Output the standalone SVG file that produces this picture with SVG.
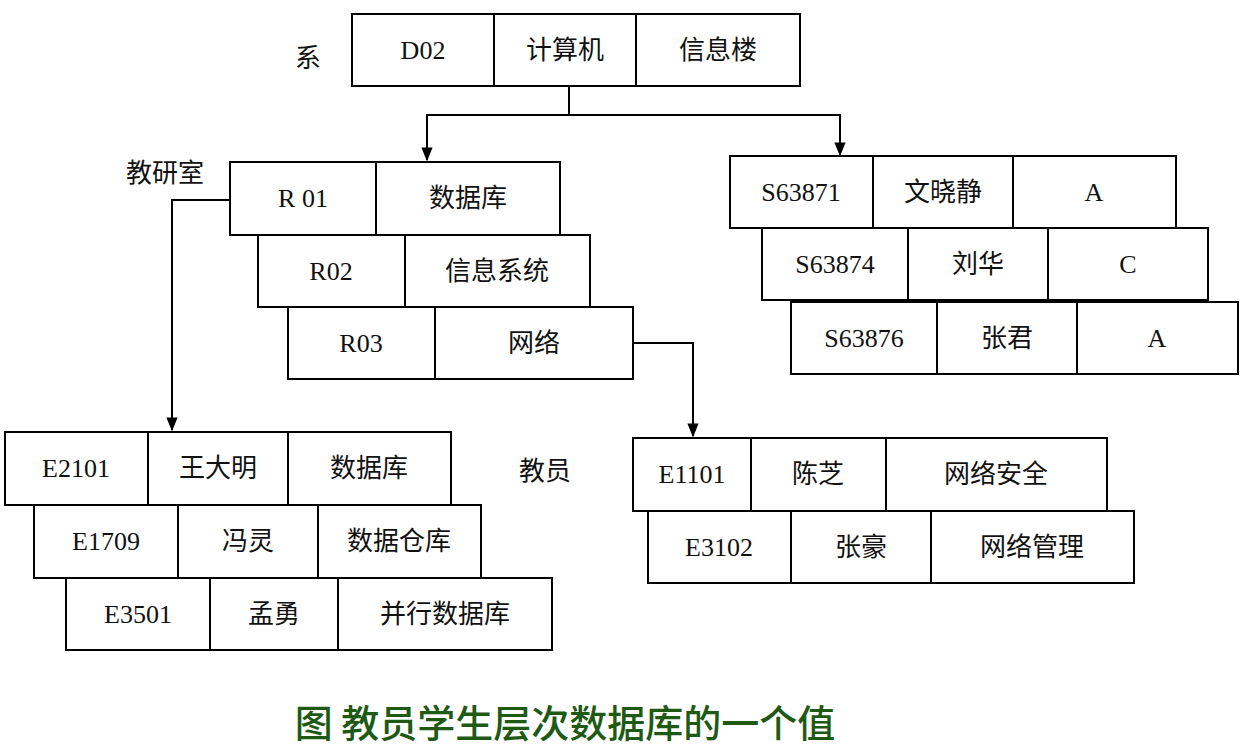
<svg xmlns="http://www.w3.org/2000/svg" width="1255" height="751" viewBox="0 0 1255 751">
<style>
.b{fill:#fff;stroke:#000;stroke-width:2}
.d{stroke:#000;stroke-width:2}
text{font-family:"Liberation Serif","Noto Sans CJK SC",serif;font-size:26px;fill:#111;text-anchor:middle;dominant-baseline:central}
.l{font-family:"Noto Sans CJK SC",sans-serif}
.c{font-family:"Noto Sans CJK SC",sans-serif;font-size:38px;fill:#1e5a14;font-weight:500}
.w{fill:none;stroke:#000;stroke-width:2}
</style>
<defs><marker id="a" viewBox="0 0 10 10" refX="9" refY="5" markerWidth="7" markerHeight="9" orient="auto"><path d="M0,1L10,5L0,9z" fill="#000"/></marker></defs>
<rect width="1255" height="751" fill="#fff"/>
<g id="connectors">
<path class="w" d="M569,86V115H427V160" marker-end="url(#a)"/>
<path class="w" d="M569,115H840V155" marker-end="url(#a)"/>
<path class="w" d="M230,200H172V430" marker-end="url(#a)"/>
<path class="w" d="M633,343H693V436" marker-end="url(#a)"/>
</g>
<g id="labels">
<text x="308" y="55" class="l">系</text>
<text x="165" y="170" class="l">教研室</text>
<text x="545" y="468" class="l">教员</text>
</g>
<g id="dept"><rect class="b" x="352" y="14" width="448" height="72"/><path class="d" d="M494,14V86M636,14V86"/>
<text x="423" y="50">D02</text><text x="565" y="50">计算机</text><text x="718" y="50">信息楼</text></g>
<g id="r01"><rect class="b" x="230" y="162" width="330" height="73"/><path class="d" d="M376,162V235"/><text x="303" y="198">R 01</text><text x="468" y="198">数据库</text></g>
<g id="r02"><rect class="b" x="258" y="235" width="332" height="72"/><path class="d" d="M405,235V307"/><text x="331" y="271">R02</text><text x="497" y="271">信息系统</text></g>
<g id="r03"><rect class="b" x="288" y="307" width="345" height="72"/><path class="d" d="M435,307V379"/><text x="361" y="343">R03</text><text x="534" y="343">网络</text></g>
<g id="s1"><rect class="b" x="730" y="156" width="446" height="72"/><path class="d" d="M873,156V228M1013,156V228"/><text x="801" y="192">S63871</text><text x="943" y="192">文晓静</text><text x="1094" y="192">A</text></g>
<g id="s2"><rect class="b" x="762" y="228" width="446" height="72"/><path class="d" d="M908,228V300M1048,228V300"/><text x="835" y="264">S63874</text><text x="978" y="264">刘华</text><text x="1128" y="264">C</text></g>
<g id="s3"><rect class="b" x="791" y="302" width="447" height="72"/><path class="d" d="M937,302V374M1077,302V374"/><text x="864" y="338">S63876</text><text x="1007" y="338">张君</text><text x="1157" y="338">A</text></g>
<g id="t1"><rect class="b" x="5" y="432" width="446" height="73"/><path class="d" d="M148,432V505M288,432V505"/><text x="76" y="468">E2101</text><text x="218" y="468">王大明</text><text x="369" y="468">数据库</text></g>
<g id="t2"><rect class="b" x="34" y="505" width="447" height="73"/><path class="d" d="M178,505V578M318,505V578"/><text x="106" y="541">E1709</text><text x="248" y="541">冯灵</text><text x="399" y="541">数据仓库</text></g>
<g id="t3"><rect class="b" x="66" y="578" width="486" height="72"/><path class="d" d="M210,578V650M338,578V650"/><text x="138" y="614">E3501</text><text x="274" y="614">孟勇</text><text x="445" y="614">并行数据库</text></g>
<g id="t4"><rect class="b" x="633" y="438" width="474" height="73"/><path class="d" d="M751,438V511M886,438V511"/><text x="692" y="474">E1101</text><text x="818" y="474">陈芝</text><text x="996" y="474">网络安全</text></g>
<g id="t5"><rect class="b" x="648" y="511" width="486" height="72"/><path class="d" d="M791,511V583M931,511V583"/><text x="719" y="547">E3102</text><text x="861" y="547">张豪</text><text x="1032" y="547">网络管理</text></g>
<text x="565" y="720" class="c">图 教员学生层次数据库的一个值</text>
</svg>
